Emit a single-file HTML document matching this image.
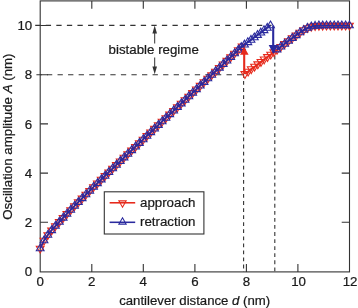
<!DOCTYPE html>
<html><head><meta charset="utf-8"><title>chart</title><style>html,body{margin:0;padding:0;background:#fff}svg{display:block}text{stroke:#1a1a1a;stroke-width:.22px}</style></head><body>
<svg width="358" height="308" viewBox="0 0 358 308" font-family="Liberation Sans, Arial, Helvetica, sans-serif" font-size="13.3" fill="#1a1a1a">
<rect width="358" height="308" fill="#fff"/>
<path d="M35.2 25.4H271.5" stroke="#333333" stroke-width="1.1" stroke-dasharray="5.3 5.26" fill="none"/>
<path d="M36.4 74.7H243.6" stroke="#333333" stroke-width="1.1" stroke-dasharray="5.3 5.26" fill="none"/>
<path d="M243.6 74.0V271.9" stroke="#333333" stroke-width="1.1" stroke-dasharray="3.8 3.26" fill="none"/>
<path d="M274.8 55.6V271.9" stroke="#333333" stroke-width="1.1" stroke-dasharray="3.8 3.26" fill="none"/>
<text x="40.2" y="285.6" text-anchor="middle">0</text>
<text x="91.8" y="285.6" text-anchor="middle">2</text>
<text x="143.3" y="285.6" text-anchor="middle">4</text>
<text x="194.9" y="285.6" text-anchor="middle">6</text>
<text x="246.4" y="285.6" text-anchor="middle">8</text>
<text x="298.6" y="285.6" text-anchor="middle">10</text>
<text x="350.1" y="285.6" text-anchor="middle">12</text>
<text x="32.2" y="276.2" text-anchor="end">0</text>
<text x="32.2" y="227.0" text-anchor="end">2</text>
<text x="32.2" y="177.8" text-anchor="end">4</text>
<text x="32.2" y="128.6" text-anchor="end">6</text>
<text x="32.2" y="79.4" text-anchor="end">8</text>
<text x="32.2" y="30.2" text-anchor="end">10</text>
<path d="M91.8 271.9v-7.8M91.8 0.9v7.8M143.3 271.9v-7.8M143.3 0.9v7.8M194.9 271.9v-7.8M194.9 0.9v7.8M246.4 271.9v-7.8M246.4 0.9v7.8M297.9 271.9v-7.8M297.9 0.9v7.8M40.2 222.3h7.8M349.5 222.3h-7.8M40.2 173.1h7.8M349.5 173.1h-7.8M40.2 123.9h7.8M349.5 123.9h-7.8M40.2 74.7h7.8M349.5 74.7h-7.8M40.2 25.5h7.8M349.5 25.5h-7.8" stroke="#333333" stroke-width="1.1" fill="none"/>
<rect x="40.2" y="0.9" width="309.3" height="271.0" fill="none" stroke="#333333" stroke-width="1.1"/>
<polyline fill="none" stroke="#e62a1c" stroke-width="1.70" stroke-linejoin="round" points="40.2,248.5 44.0,240.5 47.8,235.0 51.6,230.3 55.4,226.1 59.3,221.9 63.1,217.9 66.9,213.9 70.7,209.9 74.5,206.0 78.3,202.2 82.1,198.4 85.9,194.6 89.7,190.8 93.5,187.0 97.4,183.3 101.2,179.6 105.0,175.9 108.8,172.2 112.6,168.6 116.4,164.9 120.2,161.3 124.0,157.6 127.8,154.0 131.6,150.4 135.5,146.7 139.3,143.1 143.1,139.5 146.9,135.9 150.7,132.3 154.5,128.7 158.3,125.1 162.1,121.5 165.9,117.9 169.7,114.4 173.6,110.8 177.4,107.2 181.2,103.6 185.0,100.0 188.8,96.4 192.6,92.9 196.4,89.3 200.2,85.7 204.0,82.1 207.8,78.6 211.7,75.0 215.5,71.4 219.3,67.8 223.1,64.3 226.9,60.7 230.7,57.1 234.5,53.6 238.3,50.0 242.1,46.4"/>
<polyline fill="none" stroke="#e62a1c" stroke-width="1.70" stroke-linejoin="round" points="244.9,73.9 248.1,71.5 251.3,69.0 254.6,66.6 257.8,64.2 261.0,61.7 264.2,59.3 267.5,56.9 270.7,54.4 273.9,52.0 277.0,49.7 280.8,46.8 284.6,43.9 288.4,41.0 292.2,38.2 296.1,35.3 299.9,32.6 303.7,30.0 307.5,27.9 311.3,26.6 315.1,25.9 318.9,25.6 322.7,25.5 326.5,25.5 330.3,25.5 334.2,25.5 338.0,25.5 341.8,25.5 345.6,25.5 349.4,25.5"/>
<path d="M40.2 253.0L44.1 246.2L36.3 246.2Z" fill="none" stroke="#e62a1c" stroke-width="1.1"/>
<path d="M44.0 245.0L47.9 238.2L40.1 238.2Z" fill="none" stroke="#e62a1c" stroke-width="1.1"/>
<path d="M47.8 239.5L51.7 232.7L43.9 232.7Z" fill="none" stroke="#e62a1c" stroke-width="1.1"/>
<path d="M51.6 234.9L55.5 228.1L47.7 228.1Z" fill="none" stroke="#e62a1c" stroke-width="1.1"/>
<path d="M55.4 230.6L59.3 223.8L51.5 223.8Z" fill="none" stroke="#e62a1c" stroke-width="1.1"/>
<path d="M59.3 226.4L63.2 219.6L55.4 219.6Z" fill="none" stroke="#e62a1c" stroke-width="1.1"/>
<path d="M63.1 222.4L67.0 215.6L59.2 215.6Z" fill="none" stroke="#e62a1c" stroke-width="1.1"/>
<path d="M66.9 218.4L70.8 211.6L63.0 211.6Z" fill="none" stroke="#e62a1c" stroke-width="1.1"/>
<path d="M70.7 214.5L74.6 207.7L66.8 207.7Z" fill="none" stroke="#e62a1c" stroke-width="1.1"/>
<path d="M74.5 210.6L78.4 203.8L70.6 203.8Z" fill="none" stroke="#e62a1c" stroke-width="1.1"/>
<path d="M78.3 206.7L82.2 199.9L74.4 199.9Z" fill="none" stroke="#e62a1c" stroke-width="1.1"/>
<path d="M82.1 202.9L86.0 196.1L78.2 196.1Z" fill="none" stroke="#e62a1c" stroke-width="1.1"/>
<path d="M85.9 199.1L89.8 192.3L82.0 192.3Z" fill="none" stroke="#e62a1c" stroke-width="1.1"/>
<path d="M89.7 195.3L93.6 188.5L85.8 188.5Z" fill="none" stroke="#e62a1c" stroke-width="1.1"/>
<path d="M93.5 191.6L97.4 184.8L89.6 184.8Z" fill="none" stroke="#e62a1c" stroke-width="1.1"/>
<path d="M97.4 187.8L101.3 181.0L93.5 181.0Z" fill="none" stroke="#e62a1c" stroke-width="1.1"/>
<path d="M101.2 184.1L105.1 177.3L97.3 177.3Z" fill="none" stroke="#e62a1c" stroke-width="1.1"/>
<path d="M105.0 180.4L108.9 173.6L101.1 173.6Z" fill="none" stroke="#e62a1c" stroke-width="1.1"/>
<path d="M108.8 176.8L112.7 170.0L104.9 170.0Z" fill="none" stroke="#e62a1c" stroke-width="1.1"/>
<path d="M112.6 173.1L116.5 166.3L108.7 166.3Z" fill="none" stroke="#e62a1c" stroke-width="1.1"/>
<path d="M116.4 169.4L120.3 162.6L112.5 162.6Z" fill="none" stroke="#e62a1c" stroke-width="1.1"/>
<path d="M120.2 165.8L124.1 159.0L116.3 159.0Z" fill="none" stroke="#e62a1c" stroke-width="1.1"/>
<path d="M124.0 162.1L127.9 155.3L120.1 155.3Z" fill="none" stroke="#e62a1c" stroke-width="1.1"/>
<path d="M127.8 158.5L131.7 151.7L123.9 151.7Z" fill="none" stroke="#e62a1c" stroke-width="1.1"/>
<path d="M131.6 154.9L135.5 148.1L127.7 148.1Z" fill="none" stroke="#e62a1c" stroke-width="1.1"/>
<path d="M135.5 151.3L139.4 144.5L131.6 144.5Z" fill="none" stroke="#e62a1c" stroke-width="1.1"/>
<path d="M139.3 147.7L143.2 140.9L135.4 140.9Z" fill="none" stroke="#e62a1c" stroke-width="1.1"/>
<path d="M143.1 144.1L147.0 137.3L139.2 137.3Z" fill="none" stroke="#e62a1c" stroke-width="1.1"/>
<path d="M146.9 140.4L150.8 133.6L143.0 133.6Z" fill="none" stroke="#e62a1c" stroke-width="1.1"/>
<path d="M150.7 136.8L154.6 130.0L146.8 130.0Z" fill="none" stroke="#e62a1c" stroke-width="1.1"/>
<path d="M154.5 133.2L158.4 126.4L150.6 126.4Z" fill="none" stroke="#e62a1c" stroke-width="1.1"/>
<path d="M158.3 129.7L162.2 122.9L154.4 122.9Z" fill="none" stroke="#e62a1c" stroke-width="1.1"/>
<path d="M162.1 126.1L166.0 119.3L158.2 119.3Z" fill="none" stroke="#e62a1c" stroke-width="1.1"/>
<path d="M165.9 122.5L169.8 115.7L162.0 115.7Z" fill="none" stroke="#e62a1c" stroke-width="1.1"/>
<path d="M169.7 118.9L173.6 112.1L165.8 112.1Z" fill="none" stroke="#e62a1c" stroke-width="1.1"/>
<path d="M173.6 115.3L177.5 108.5L169.7 108.5Z" fill="none" stroke="#e62a1c" stroke-width="1.1"/>
<path d="M177.4 111.7L181.3 104.9L173.5 104.9Z" fill="none" stroke="#e62a1c" stroke-width="1.1"/>
<path d="M181.2 108.1L185.1 101.3L177.3 101.3Z" fill="none" stroke="#e62a1c" stroke-width="1.1"/>
<path d="M185.0 104.6L188.9 97.8L181.1 97.8Z" fill="none" stroke="#e62a1c" stroke-width="1.1"/>
<path d="M188.8 101.0L192.7 94.2L184.9 94.2Z" fill="none" stroke="#e62a1c" stroke-width="1.1"/>
<path d="M192.6 97.4L196.5 90.6L188.7 90.6Z" fill="none" stroke="#e62a1c" stroke-width="1.1"/>
<path d="M196.4 93.8L200.3 87.0L192.5 87.0Z" fill="none" stroke="#e62a1c" stroke-width="1.1"/>
<path d="M200.2 90.2L204.1 83.4L196.3 83.4Z" fill="none" stroke="#e62a1c" stroke-width="1.1"/>
<path d="M204.0 86.7L207.9 79.9L200.1 79.9Z" fill="none" stroke="#e62a1c" stroke-width="1.1"/>
<path d="M207.8 83.1L211.7 76.3L203.9 76.3Z" fill="none" stroke="#e62a1c" stroke-width="1.1"/>
<path d="M211.7 79.5L215.6 72.7L207.8 72.7Z" fill="none" stroke="#e62a1c" stroke-width="1.1"/>
<path d="M215.5 76.0L219.4 69.2L211.6 69.2Z" fill="none" stroke="#e62a1c" stroke-width="1.1"/>
<path d="M219.3 72.4L223.2 65.6L215.4 65.6Z" fill="none" stroke="#e62a1c" stroke-width="1.1"/>
<path d="M223.1 68.8L227.0 62.0L219.2 62.0Z" fill="none" stroke="#e62a1c" stroke-width="1.1"/>
<path d="M226.9 65.2L230.8 58.4L223.0 58.4Z" fill="none" stroke="#e62a1c" stroke-width="1.1"/>
<path d="M230.7 61.7L234.6 54.9L226.8 54.9Z" fill="none" stroke="#e62a1c" stroke-width="1.1"/>
<path d="M234.5 58.1L238.4 51.3L230.6 51.3Z" fill="none" stroke="#e62a1c" stroke-width="1.1"/>
<path d="M238.3 54.5L242.2 47.7L234.4 47.7Z" fill="none" stroke="#e62a1c" stroke-width="1.1"/>
<path d="M242.1 50.9L246.0 44.1L238.2 44.1Z" fill="none" stroke="#e62a1c" stroke-width="1.1"/>
<path d="M244.9 78.4L248.8 71.6L241.0 71.6Z" fill="none" stroke="#e62a1c" stroke-width="1.1"/>
<path d="M248.1 76.0L252.0 69.2L244.2 69.2Z" fill="none" stroke="#e62a1c" stroke-width="1.1"/>
<path d="M251.3 73.6L255.2 66.8L247.4 66.8Z" fill="none" stroke="#e62a1c" stroke-width="1.1"/>
<path d="M254.6 71.1L258.5 64.3L250.7 64.3Z" fill="none" stroke="#e62a1c" stroke-width="1.1"/>
<path d="M257.8 68.7L261.7 61.9L253.9 61.9Z" fill="none" stroke="#e62a1c" stroke-width="1.1"/>
<path d="M261.0 66.3L264.9 59.5L257.1 59.5Z" fill="none" stroke="#e62a1c" stroke-width="1.1"/>
<path d="M264.2 63.8L268.1 57.0L260.3 57.0Z" fill="none" stroke="#e62a1c" stroke-width="1.1"/>
<path d="M267.5 61.4L271.4 54.6L263.6 54.6Z" fill="none" stroke="#e62a1c" stroke-width="1.1"/>
<path d="M270.7 59.0L274.6 52.2L266.8 52.2Z" fill="none" stroke="#e62a1c" stroke-width="1.1"/>
<path d="M273.9 56.5L277.8 49.7L270.0 49.7Z" fill="none" stroke="#e62a1c" stroke-width="1.1"/>
<path d="M277.0 54.2L280.9 47.4L273.1 47.4Z" fill="none" stroke="#e62a1c" stroke-width="1.1"/>
<path d="M280.8 51.3L284.7 44.5L276.9 44.5Z" fill="none" stroke="#e62a1c" stroke-width="1.1"/>
<path d="M284.6 48.4L288.5 41.6L280.7 41.6Z" fill="none" stroke="#e62a1c" stroke-width="1.1"/>
<path d="M288.4 45.6L292.3 38.8L284.5 38.8Z" fill="none" stroke="#e62a1c" stroke-width="1.1"/>
<path d="M292.2 42.7L296.1 35.9L288.3 35.9Z" fill="none" stroke="#e62a1c" stroke-width="1.1"/>
<path d="M296.1 39.9L300.0 33.1L292.2 33.1Z" fill="none" stroke="#e62a1c" stroke-width="1.1"/>
<path d="M299.9 37.1L303.8 30.3L296.0 30.3Z" fill="none" stroke="#e62a1c" stroke-width="1.1"/>
<path d="M303.7 34.6L307.6 27.8L299.8 27.8Z" fill="none" stroke="#e62a1c" stroke-width="1.1"/>
<path d="M307.5 32.5L311.4 25.7L303.6 25.7Z" fill="none" stroke="#e62a1c" stroke-width="1.1"/>
<path d="M311.3 31.1L315.2 24.3L307.4 24.3Z" fill="none" stroke="#e62a1c" stroke-width="1.1"/>
<path d="M315.1 30.4L319.0 23.6L311.2 23.6Z" fill="none" stroke="#e62a1c" stroke-width="1.1"/>
<path d="M318.9 30.2L322.8 23.4L315.0 23.4Z" fill="none" stroke="#e62a1c" stroke-width="1.1"/>
<path d="M322.7 30.1L326.6 23.3L318.8 23.3Z" fill="none" stroke="#e62a1c" stroke-width="1.1"/>
<path d="M326.5 30.0L330.4 23.2L322.6 23.2Z" fill="none" stroke="#e62a1c" stroke-width="1.1"/>
<path d="M330.3 30.0L334.2 23.2L326.4 23.2Z" fill="none" stroke="#e62a1c" stroke-width="1.1"/>
<path d="M334.2 30.0L338.1 23.2L330.3 23.2Z" fill="none" stroke="#e62a1c" stroke-width="1.1"/>
<path d="M338.0 30.0L341.9 23.2L334.1 23.2Z" fill="none" stroke="#e62a1c" stroke-width="1.1"/>
<path d="M341.8 30.0L345.7 23.2L337.9 23.2Z" fill="none" stroke="#e62a1c" stroke-width="1.1"/>
<path d="M345.6 30.0L349.5 23.2L341.7 23.2Z" fill="none" stroke="#e62a1c" stroke-width="1.1"/>
<path d="M349.4 30.0L353.3 23.2L345.5 23.2Z" fill="none" stroke="#e62a1c" stroke-width="1.1"/>
<polyline fill="none" stroke="#2a2a9e" stroke-width="1.70" stroke-linejoin="round" points="40.2,248.5 44.0,240.5 47.8,235.0 51.6,230.3 55.4,226.1 59.3,221.9 63.1,217.9 66.9,213.9 70.7,209.9 74.5,206.0 78.3,202.2 82.1,198.4 85.9,194.6 89.7,190.8 93.5,187.0 97.4,183.3 101.2,179.6 105.0,175.9 108.8,172.2 112.6,168.6 116.4,164.9 120.2,161.3 124.0,157.6 127.8,154.0 131.6,150.4 135.5,146.7 139.3,143.1 143.1,139.5 146.9,135.9 150.7,132.3 154.5,128.7 158.3,125.1 162.1,121.5 165.9,117.9 169.7,114.4 173.6,110.8 177.4,107.2 181.2,103.6 185.0,100.0 188.8,96.4 192.6,92.9 196.4,89.3 200.2,85.7 204.0,82.1 207.8,78.6 211.7,75.0 215.5,71.4 219.3,67.8 223.1,64.3 226.9,60.7 230.7,57.1 234.5,53.6 238.3,50.0 241.3,47.2 244.5,44.8 247.8,42.4 251.0,40.0 254.3,37.5 257.5,35.1 260.8,32.7 264.0,30.3 267.3,27.9 270.5,25.5"/>
<polyline fill="none" stroke="#2a2a9e" stroke-width="1.70" stroke-linejoin="round" points="277.0,49.7 280.8,46.8 284.6,43.9 288.4,41.0 292.2,38.2 296.1,35.3 299.9,32.6 303.7,30.0 307.5,27.9 311.3,26.6 315.1,25.9 318.9,25.6 322.7,25.5 326.5,25.5 330.3,25.5 334.2,25.5 338.0,25.5 341.8,25.5 345.6,25.5 349.4,25.5"/>
<path d="M40.2 244.0L44.1 250.8L36.3 250.8Z" fill="none" stroke="#2a2a9e" stroke-width="1.1"/>
<path d="M44.0 236.0L47.9 242.8L40.1 242.8Z" fill="none" stroke="#2a2a9e" stroke-width="1.1"/>
<path d="M47.8 230.5L51.7 237.3L43.9 237.3Z" fill="none" stroke="#2a2a9e" stroke-width="1.1"/>
<path d="M51.6 225.8L55.5 232.6L47.7 232.6Z" fill="none" stroke="#2a2a9e" stroke-width="1.1"/>
<path d="M55.4 221.5L59.3 228.3L51.5 228.3Z" fill="none" stroke="#2a2a9e" stroke-width="1.1"/>
<path d="M59.3 217.4L63.2 224.2L55.4 224.2Z" fill="none" stroke="#2a2a9e" stroke-width="1.1"/>
<path d="M63.1 213.3L67.0 220.1L59.2 220.1Z" fill="none" stroke="#2a2a9e" stroke-width="1.1"/>
<path d="M66.9 209.3L70.8 216.1L63.0 216.1Z" fill="none" stroke="#2a2a9e" stroke-width="1.1"/>
<path d="M70.7 205.4L74.6 212.2L66.8 212.2Z" fill="none" stroke="#2a2a9e" stroke-width="1.1"/>
<path d="M74.5 201.5L78.4 208.3L70.6 208.3Z" fill="none" stroke="#2a2a9e" stroke-width="1.1"/>
<path d="M78.3 197.7L82.2 204.5L74.4 204.5Z" fill="none" stroke="#2a2a9e" stroke-width="1.1"/>
<path d="M82.1 193.8L86.0 200.6L78.2 200.6Z" fill="none" stroke="#2a2a9e" stroke-width="1.1"/>
<path d="M85.9 190.0L89.8 196.8L82.0 196.8Z" fill="none" stroke="#2a2a9e" stroke-width="1.1"/>
<path d="M89.7 186.3L93.6 193.1L85.8 193.1Z" fill="none" stroke="#2a2a9e" stroke-width="1.1"/>
<path d="M93.5 182.5L97.4 189.3L89.6 189.3Z" fill="none" stroke="#2a2a9e" stroke-width="1.1"/>
<path d="M97.4 178.8L101.3 185.6L93.5 185.6Z" fill="none" stroke="#2a2a9e" stroke-width="1.1"/>
<path d="M101.2 175.1L105.1 181.9L97.3 181.9Z" fill="none" stroke="#2a2a9e" stroke-width="1.1"/>
<path d="M105.0 171.4L108.9 178.2L101.1 178.2Z" fill="none" stroke="#2a2a9e" stroke-width="1.1"/>
<path d="M108.8 167.7L112.7 174.5L104.9 174.5Z" fill="none" stroke="#2a2a9e" stroke-width="1.1"/>
<path d="M112.6 164.0L116.5 170.8L108.7 170.8Z" fill="none" stroke="#2a2a9e" stroke-width="1.1"/>
<path d="M116.4 160.4L120.3 167.2L112.5 167.2Z" fill="none" stroke="#2a2a9e" stroke-width="1.1"/>
<path d="M120.2 156.7L124.1 163.5L116.3 163.5Z" fill="none" stroke="#2a2a9e" stroke-width="1.1"/>
<path d="M124.0 153.1L127.9 159.9L120.1 159.9Z" fill="none" stroke="#2a2a9e" stroke-width="1.1"/>
<path d="M127.8 149.4L131.7 156.2L123.9 156.2Z" fill="none" stroke="#2a2a9e" stroke-width="1.1"/>
<path d="M131.6 145.8L135.5 152.6L127.7 152.6Z" fill="none" stroke="#2a2a9e" stroke-width="1.1"/>
<path d="M135.5 142.2L139.4 149.0L131.6 149.0Z" fill="none" stroke="#2a2a9e" stroke-width="1.1"/>
<path d="M139.3 138.6L143.2 145.4L135.4 145.4Z" fill="none" stroke="#2a2a9e" stroke-width="1.1"/>
<path d="M143.1 135.0L147.0 141.8L139.2 141.8Z" fill="none" stroke="#2a2a9e" stroke-width="1.1"/>
<path d="M146.9 131.4L150.8 138.2L143.0 138.2Z" fill="none" stroke="#2a2a9e" stroke-width="1.1"/>
<path d="M150.7 127.8L154.6 134.6L146.8 134.6Z" fill="none" stroke="#2a2a9e" stroke-width="1.1"/>
<path d="M154.5 124.2L158.4 131.0L150.6 131.0Z" fill="none" stroke="#2a2a9e" stroke-width="1.1"/>
<path d="M158.3 120.6L162.2 127.4L154.4 127.4Z" fill="none" stroke="#2a2a9e" stroke-width="1.1"/>
<path d="M162.1 117.0L166.0 123.8L158.2 123.8Z" fill="none" stroke="#2a2a9e" stroke-width="1.1"/>
<path d="M165.9 113.4L169.8 120.2L162.0 120.2Z" fill="none" stroke="#2a2a9e" stroke-width="1.1"/>
<path d="M169.7 109.8L173.6 116.6L165.8 116.6Z" fill="none" stroke="#2a2a9e" stroke-width="1.1"/>
<path d="M173.6 106.2L177.5 113.0L169.7 113.0Z" fill="none" stroke="#2a2a9e" stroke-width="1.1"/>
<path d="M177.4 102.7L181.3 109.5L173.5 109.5Z" fill="none" stroke="#2a2a9e" stroke-width="1.1"/>
<path d="M181.2 99.1L185.1 105.9L177.3 105.9Z" fill="none" stroke="#2a2a9e" stroke-width="1.1"/>
<path d="M185.0 95.5L188.9 102.3L181.1 102.3Z" fill="none" stroke="#2a2a9e" stroke-width="1.1"/>
<path d="M188.8 91.9L192.7 98.7L184.9 98.7Z" fill="none" stroke="#2a2a9e" stroke-width="1.1"/>
<path d="M192.6 88.3L196.5 95.1L188.7 95.1Z" fill="none" stroke="#2a2a9e" stroke-width="1.1"/>
<path d="M196.4 84.8L200.3 91.6L192.5 91.6Z" fill="none" stroke="#2a2a9e" stroke-width="1.1"/>
<path d="M200.2 81.2L204.1 88.0L196.3 88.0Z" fill="none" stroke="#2a2a9e" stroke-width="1.1"/>
<path d="M204.0 77.6L207.9 84.4L200.1 84.4Z" fill="none" stroke="#2a2a9e" stroke-width="1.1"/>
<path d="M207.8 74.0L211.7 80.8L203.9 80.8Z" fill="none" stroke="#2a2a9e" stroke-width="1.1"/>
<path d="M211.7 70.5L215.6 77.3L207.8 77.3Z" fill="none" stroke="#2a2a9e" stroke-width="1.1"/>
<path d="M215.5 66.9L219.4 73.7L211.6 73.7Z" fill="none" stroke="#2a2a9e" stroke-width="1.1"/>
<path d="M219.3 63.3L223.2 70.1L215.4 70.1Z" fill="none" stroke="#2a2a9e" stroke-width="1.1"/>
<path d="M223.1 59.7L227.0 66.5L219.2 66.5Z" fill="none" stroke="#2a2a9e" stroke-width="1.1"/>
<path d="M226.9 56.2L230.8 63.0L223.0 63.0Z" fill="none" stroke="#2a2a9e" stroke-width="1.1"/>
<path d="M230.7 52.6L234.6 59.4L226.8 59.4Z" fill="none" stroke="#2a2a9e" stroke-width="1.1"/>
<path d="M234.5 49.0L238.4 55.8L230.6 55.8Z" fill="none" stroke="#2a2a9e" stroke-width="1.1"/>
<path d="M238.3 45.4L242.2 52.2L234.4 52.2Z" fill="none" stroke="#2a2a9e" stroke-width="1.1"/>
<path d="M241.3 42.7L245.2 49.5L237.4 49.5Z" fill="none" stroke="#2a2a9e" stroke-width="1.1"/>
<path d="M244.5 40.2L248.4 47.0L240.6 47.0Z" fill="none" stroke="#2a2a9e" stroke-width="1.1"/>
<path d="M247.8 37.8L251.7 44.6L243.9 44.6Z" fill="none" stroke="#2a2a9e" stroke-width="1.1"/>
<path d="M251.0 35.4L254.9 42.2L247.1 42.2Z" fill="none" stroke="#2a2a9e" stroke-width="1.1"/>
<path d="M254.3 33.0L258.2 39.8L250.4 39.8Z" fill="none" stroke="#2a2a9e" stroke-width="1.1"/>
<path d="M257.5 30.6L261.4 37.4L253.6 37.4Z" fill="none" stroke="#2a2a9e" stroke-width="1.1"/>
<path d="M260.8 28.2L264.7 35.0L256.9 35.0Z" fill="none" stroke="#2a2a9e" stroke-width="1.1"/>
<path d="M264.0 25.8L267.9 32.6L260.1 32.6Z" fill="none" stroke="#2a2a9e" stroke-width="1.1"/>
<path d="M267.3 23.4L271.2 30.2L263.4 30.2Z" fill="none" stroke="#2a2a9e" stroke-width="1.1"/>
<path d="M270.5 21.0L274.4 27.8L266.6 27.8Z" fill="none" stroke="#2a2a9e" stroke-width="1.1"/>
<path d="M277.0 45.1L280.9 51.9L273.1 51.9Z" fill="none" stroke="#2a2a9e" stroke-width="1.1"/>
<path d="M280.8 42.2L284.7 49.0L276.9 49.0Z" fill="none" stroke="#2a2a9e" stroke-width="1.1"/>
<path d="M284.6 39.4L288.5 46.2L280.7 46.2Z" fill="none" stroke="#2a2a9e" stroke-width="1.1"/>
<path d="M288.4 36.5L292.3 43.3L284.5 43.3Z" fill="none" stroke="#2a2a9e" stroke-width="1.1"/>
<path d="M292.2 33.6L296.1 40.4L288.3 40.4Z" fill="none" stroke="#2a2a9e" stroke-width="1.1"/>
<path d="M296.1 30.8L300.0 37.6L292.2 37.6Z" fill="none" stroke="#2a2a9e" stroke-width="1.1"/>
<path d="M299.9 28.0L303.8 34.8L296.0 34.8Z" fill="none" stroke="#2a2a9e" stroke-width="1.1"/>
<path d="M303.7 25.5L307.6 32.3L299.8 32.3Z" fill="none" stroke="#2a2a9e" stroke-width="1.1"/>
<path d="M307.5 23.4L311.4 30.2L303.6 30.2Z" fill="none" stroke="#2a2a9e" stroke-width="1.1"/>
<path d="M311.3 22.0L315.2 28.8L307.4 28.8Z" fill="none" stroke="#2a2a9e" stroke-width="1.1"/>
<path d="M315.1 21.4L319.0 28.2L311.2 28.2Z" fill="none" stroke="#2a2a9e" stroke-width="1.1"/>
<path d="M318.9 21.1L322.8 27.9L315.0 27.9Z" fill="none" stroke="#2a2a9e" stroke-width="1.1"/>
<path d="M322.7 21.0L326.6 27.8L318.8 27.8Z" fill="none" stroke="#2a2a9e" stroke-width="1.1"/>
<path d="M326.5 21.0L330.4 27.8L322.6 27.8Z" fill="none" stroke="#2a2a9e" stroke-width="1.1"/>
<path d="M330.3 21.0L334.2 27.8L326.4 27.8Z" fill="none" stroke="#2a2a9e" stroke-width="1.1"/>
<path d="M334.2 21.0L338.1 27.8L330.3 27.8Z" fill="none" stroke="#2a2a9e" stroke-width="1.1"/>
<path d="M338.0 21.0L341.9 27.8L334.1 27.8Z" fill="none" stroke="#2a2a9e" stroke-width="1.1"/>
<path d="M341.8 21.0L345.7 27.8L337.9 27.8Z" fill="none" stroke="#2a2a9e" stroke-width="1.1"/>
<path d="M345.6 21.0L349.5 27.8L341.7 27.8Z" fill="none" stroke="#2a2a9e" stroke-width="1.1"/>
<path d="M349.4 21.0L353.3 27.8L345.5 27.8Z" fill="none" stroke="#2a2a9e" stroke-width="1.1"/>
<path d="M244.2 74V54" stroke="#e62a1c" stroke-width="2.1" fill="none"/>
<path d="M244.3 47.0l4.3 7.8h-8.6z" fill="#e62a1c"/>
<path d="M273.2 25.7V46" stroke="#2a2a9e" stroke-width="2.1" fill="none"/>
<path d="M273.3 54.0l4.6 -9.0h-9.2z" fill="#2a2a9e"/>
<path d="M154.7 30V43.5M154.7 57.5V69.5" stroke="#333333" stroke-width="1" fill="none"/>
<path d="M154.7 25.6l2.3 7.8h-4.6zM154.7 74.2l2.3 -7.8h-4.6z" fill="#333333"/>
<text x="153.7" y="53.5" text-anchor="middle">bistable regime</text>
<rect x="104.3" y="191.8" width="99.6" height="42.2" fill="#fff" stroke="#333333" stroke-width="1.1"/>
<path d="M109.6 202.8H135.2" stroke="#e62a1c" stroke-width="1.55"/>
<path d="M122.5 207.2L126.1 200.9L118.9 200.9Z" fill="none" stroke="#e62a1c" stroke-width="1.1"/>
<path d="M109.6 222.3H135.2" stroke="#2a2a9e" stroke-width="1.55"/>
<path d="M122.5 217.8L126.1 224.1L118.9 224.1Z" fill="none" stroke="#2a2a9e" stroke-width="1.1"/>
<text x="140" y="206.7">approach</text>
<text x="140" y="226">retraction</text>
<text x="194.7" y="304.5" font-size="13.2" text-anchor="middle">cantilever distance <tspan font-style="italic">d</tspan> (nm)</text>
<text transform="translate(12.3,136.6) rotate(-90)" text-anchor="middle">Oscillation amplitude <tspan font-style="italic">A</tspan> (nm)</text>
</svg>
</body></html>
